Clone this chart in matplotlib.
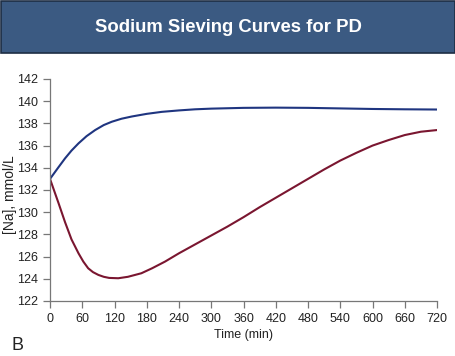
import matplotlib
matplotlib.use("Agg")
import matplotlib.pyplot as plt
from matplotlib.patches import Rectangle

plt.rcParams['font.family'] = ['Liberation Sans', 'DejaVu Sans']

# blue curve
t_blue = [0, 15, 28, 40, 53, 68, 84, 100, 115, 133, 152, 180, 208, 240, 270,
          300, 360, 420, 480, 540, 600, 660, 720]
na_blue = [133, 134.0, 134.85, 135.55, 136.2, 136.85, 137.4, 137.85, 138.15,
           138.42, 138.62, 138.86, 139.04, 139.17, 139.27, 139.33, 139.4, 139.42,
           139.4, 139.35, 139.3, 139.27, 139.25]

# red curve
t_red = [0, 8, 16, 28, 40, 53, 62, 71, 80, 90, 100, 110, 127, 145, 170, 190,
         214, 240, 270, 300, 330, 360, 390, 420, 450, 480, 510, 540, 570, 600,
         630, 660, 690, 720]
na_red = [133, 131.9, 130.8, 129.1, 127.55, 126.3, 125.55, 124.95, 124.6, 124.35,
          124.18, 124.08, 124.05, 124.18, 124.5, 124.95, 125.55, 126.3, 127.1, 127.9,
          128.7, 129.55, 130.45, 131.3, 132.15, 133.0, 133.85, 134.65, 135.35,
          136.0, 136.5, 136.95, 137.25, 137.4]

title = "Sodium Sieving Curves for PD"
xticks = list(range(0, 721, 60))
yticks = list(range(122, 143, 2))

fig = plt.figure(figsize=(4.56, 3.56), dpi=100)

# title banner
fig.patches.append(Rectangle((0.002, 1 - 53 / 356), 0.996, 53 / 356 - 0.003,
                             transform=fig.transFigure, facecolor='#3b5a82',
                             edgecolor='#1e2e44', linewidth=1.2, zorder=0))
fig.text(0.5, 1 - 27 / 356, title, color='white', fontsize=13.3,
         fontweight='bold', ha='center', va='center')

ax = fig.add_axes([50 / 456, 1 - 301 / 356, 387 / 456, 222 / 356])
ax.plot(t_blue, na_blue, color='#1f3580', lw=1.5, solid_joinstyle='round')
ax.plot(t_red, na_red, color='#7a1630', lw=1.5, solid_joinstyle='round')

ax.set_xlim(0, 720)
ax.set_ylim(122, 142)
ax.set_xticks(xticks)
ax.set_yticks(yticks)
for s in ['top', 'right']:
    ax.spines[s].set_visible(False)
for s in ['left', 'bottom']:
    ax.spines[s].set_color('#777777')
    ax.spines[s].set_linewidth(0.9)
ax.tick_params(colors='#777777', labelcolor='#222222', labelsize=9,
               length=5, width=0.9, direction='out')
ax.set_xlabel('Time (min)', fontsize=9, color='#222222', labelpad=3)
ax.set_ylabel('[Na], mmol/L', fontsize=10, color='#222222')
ax.yaxis.set_label_coords(-33 / 387, 0.48)

fig.text(12 / 456, 1 - 346 / 356, 'B', fontsize=13, color='#222222',
         ha='left', va='center')

fig.savefig('out.png', dpi=100)
